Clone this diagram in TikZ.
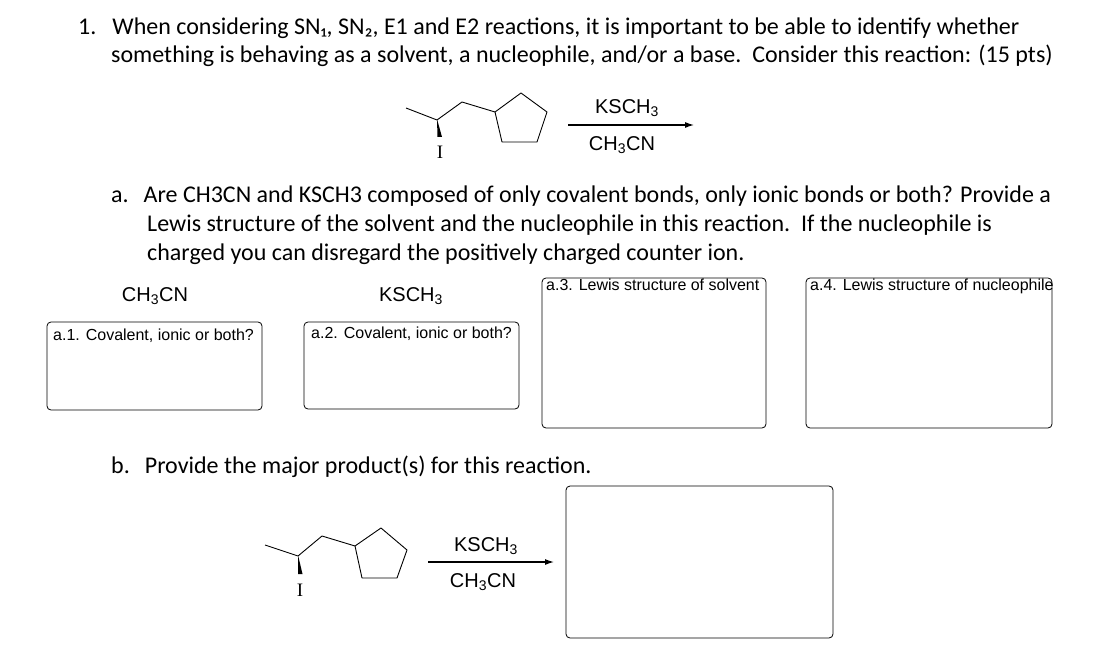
\documentclass[tikz,border=0pt]{standalone}
\usepackage{fontspec}
\usetikzlibrary{arrows.meta}
\setmainfont{Carlito}
\newfontfamily\arial{Liberation Sans}
\newfontfamily\tms{Liberation Serif}
\begin{document}
\begin{tikzpicture}[x=1pt,y=-1pt,
  txt/.style={anchor=base west,inner sep=0,font=\fontsize{24}{28}\selectfont},
  chem/.style={inner sep=0,font=\arial\fontsize{20}{22}\selectfont},
  blab/.style={anchor=north west,inner sep=0,font=\arial\fontsize{16}{18}\selectfont},
  ansbox/.style={draw,rounded corners=4pt,line width=0.8pt},
  bond/.style={line width=0.9pt,line join=round},
  rxn/.style={line width=1.2pt,-{Latex[length=9pt,width=6pt]}}]
\useasboundingbox (0,0) rectangle (1108,655);
\node[txt] (t1) at (78,35) {1.\hspace{16pt}When considering SN₁, SN₂, E1 and E2 reactions, it is important to be able to identify whether};
\node[txt] (t2) at (111,63) {something is behaving as a solvent, a nucleophile, and/or a base.\ \ Consider this reaction: (15 pts)};
% top molecule
\draw[bond] (406,108) -- (437,120) -- (462,102) -- (495,112);
\draw[bond] (495,112) -- (521,93) -- (547,112) -- (537,142) -- (502,142) -- cycle;
\fill (437,119) -- (437.5,137) -- (442,137) -- cycle;
\node[inner sep=0,font=\tms\fontsize{19}{20}\selectfont] (i1) at (440,152) {I};
\coordinate (a1s) at (568,125); \coordinate (a1e) at (694,125);
\draw[rxn] (a1s) -- (a1e);
\node[chem] (k1) at (627,108) {KSCH\textsubscript{3}};
\node[chem] (c1) at (622,145) {CH\textsubscript{3}CN};
% part a
\node[txt] (ta1) at (111,203) {a.\hspace{15pt}Are CH3CN and KSCH3 composed of only covalent bonds, only ionic bonds or both? Provide a};
\node[txt] (ta2) at (147,231) {Lewis structure of the solvent and the nucleophile in this reaction.\ \ If the nucleophile is};
\node[txt] (ta3) at (147,260) {charged you can disregard the positively charged counter ion.};
\node[chem] (lc) at (155,296) {CH\textsubscript{3}CN};
\node[chem] (lk) at (411,296) {KSCH\textsubscript{3}};
\draw[ansbox] (47,322) rectangle (262,410);
\node[blab] (b1) at (53,329) {a.1. Covalent, ionic or both?};
\draw[ansbox] (304,322) rectangle (519,409);
\node[blab] (b2) at (311,327) {a.2. Covalent, ionic or both?};
\draw[ansbox] (542,278) rectangle (766,428);
\node[blab] (b3) at (546,279) {a.3. Lewis structure of solvent};
\draw[ansbox] (806,278) rectangle (1052,428);
\node[blab] (b4) at (810,279) {a.4. Lewis structure of nucleophile};
% part b
\node[txt] (tb) at (111,473) {b.\hspace{15pt}Provide the major product(s) for this reaction.};
\draw[bond] (265,545) -- (298,556) -- (322,536) -- (355,546);
\draw[bond] (355,546) -- (381,528) -- (407,550) -- (397,578) -- (362,578) -- cycle;
\fill (298,555) -- (298,574) -- (302.5,574) -- cycle;
\node[inner sep=0,font=\tms\fontsize{19}{20}\selectfont] (i2) at (300,590) {I};
\coordinate (a2s) at (428,562); \coordinate (a2e) at (554,562);
\draw[rxn] (a2s) -- (a2e);
\node[chem] (k2) at (486,546) {KSCH\textsubscript{3}};
\node[chem] (c2) at (483,582) {CH\textsubscript{3}CN};
\draw[ansbox] (566,486) rectangle (833,638);
\end{tikzpicture}
\end{document}
